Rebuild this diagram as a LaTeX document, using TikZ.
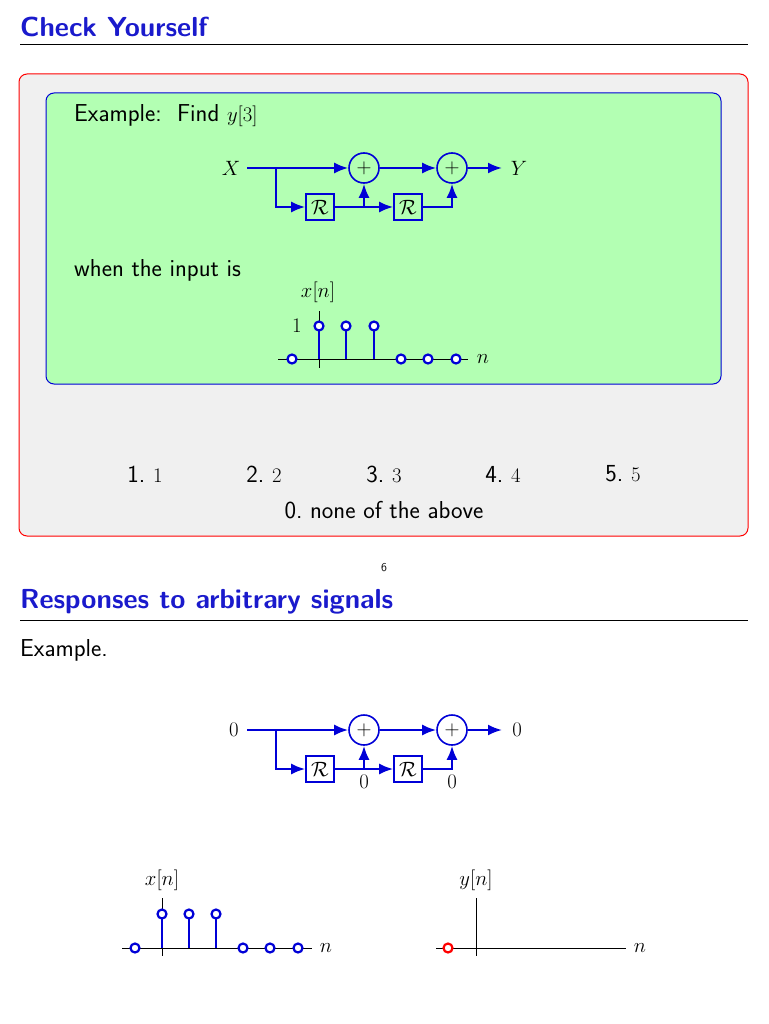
\documentclass[tikz,border=0pt]{standalone}
\usetikzlibrary{arrows.meta}
\definecolor{sigblue}{RGB}{0,0,215}
\definecolor{titleblue}{RGB}{26,26,204}
\definecolor{boxgreen}{RGB}{179,255,179}
\definecolor{boxgray}{RGB}{240,240,240}
\begin{document}
\begin{tikzpicture}[x=1pt,y=-1pt,
  wire/.style={sigblue,line width=2.2pt},
  arr/.style={wire,-{Latex[length=14pt,width=11pt]}},
  adder/.style={circle,draw=sigblue,line width=1.6pt,minimum size=30pt,inner sep=0pt,font=\fontsize{22}{22}\selectfont},
  delay/.style={draw=sigblue,line width=1.6pt,minimum width=28pt,minimum height=26pt,inner sep=0pt,font=\fontsize{22}{22}\selectfont},
  txt/.style={font=\fontsize{24.5}{28}\selectfont\sffamily,inner sep=0pt},
  mtxt/.style={font=\fontsize{22}{24}\selectfont,inner sep=0pt},
  ttl/.style={font=\fontsize{27.5}{32}\selectfont\sffamily\bfseries,text=titleblue,inner sep=0pt,anchor=west},
  ax/.style={black,line width=1pt},
  stem/.style={sigblue,line width=2pt},
  dot/.style={circle,draw=sigblue,fill=white,line width=2.2pt,minimum size=9pt,inner sep=0pt},
  rdot/.style={dot,draw=red}]
\useasboundingbox[fill=white] (0,0) rectangle (768,1024);
% Titles
\node[ttl] (t1) at (20,27) {Check Yourself};
\draw[line width=0.8pt] (20,44) -- (748,44);
\draw[red,fill=boxgray,line width=1pt,rounded corners=8pt] (19,74) rectangle (748,536);
\draw[sigblue,fill=boxgreen,line width=1pt,rounded corners=8pt] (46,93) rectangle (721,384);
\node[txt,anchor=west] (ex) at (74,116) {Example:\ \ Find {\fontsize{22}{24}\selectfont$y[3]$}};
% diagram 1
\node[mtxt] (X) at (231,168) {$X$};
\node[adder] (a1) at (364,168) {$+$};
\node[adder] (a2) at (452,168) {$+$};
\node[mtxt] (Y) at (519,168) {$Y$};
\node[delay] (r1) at (320,207) {$\mathcal{R}$};
\node[delay] (r2) at (408,207) {$\mathcal{R}$};
\coordinate (in1) at (247,168);
\coordinate (out1) at (502,168);
\coordinate (b1) at (276,168);
\coordinate (j1) at (364,207);
\draw[arr] (in1) -- (a1);
\draw[arr] (a1) -- (a2);
\draw[arr] (a2) -- (out1);
\draw[arr] (b1) |- (r1);
\draw[arr] (r1) -- (r2);
\draw[arr] (j1) -- (a1);
\draw[arr] (r2) -| (a2);
\node[txt,anchor=west] (wi) at (74,270) {when the input is};
% stem plot 1
\node[mtxt] (xl1) at (318,292) {$x[n]$};
\node[mtxt] (one) at (297,326) {$1$};
\node[mtxt] (n1) at (483,359) {$n$};
\draw[ax] (278,359) -- (468,359);
\draw[ax] (319,311) -- (319,368);
\foreach \x in {319,346,374}{\draw[stem] (\x,359) -- (\x,326); \node[dot] at (\x,326) {};}
\foreach \x in {292,401,428,456}{\node[dot] at (\x,359) {};}
% answers
\node[txt] (c1) at (145,474) {1.\ {\fontsize{22}{24}\selectfont$1$}};
\node[txt] (c2) at (264,474) {2.\ {\fontsize{22}{24}\selectfont$2$}};
\node[txt] (c3) at (384,474) {3.\ {\fontsize{22}{24}\selectfont$3$}};
\node[txt] (c4) at (503,474) {4.\ {\fontsize{22}{24}\selectfont$4$}};
\node[txt] (c5) at (623,474) {5.\ {\fontsize{22}{24}\selectfont$5$}};
\node[txt] (c0) at (384,510) {0.\ none of the above};
\node[font=\fontsize{12}{14}\selectfont\sffamily] (pg) at (384,568) {6};
% second slide
\node[ttl] (t2) at (20,602) {Responses to arbitrary signals};
\draw[line width=0.8pt] (20,620) -- (748,620);
\node[txt,anchor=west] (ex2) at (20,650) {Example.};
\node[mtxt] (X2) at (234,730) {$0$};
\node[adder] (a3) at (364,730) {$+$};
\node[adder] (a4) at (452,730) {$+$};
\node[mtxt] (Y2) at (517,730) {$0$};
\node[delay] (r3) at (320,769) {$\mathcal{R}$};
\node[delay] (r4) at (408,769) {$\mathcal{R}$};
\coordinate (in2) at (247,730);
\coordinate (out2) at (502,730);
\coordinate (b2) at (276,730);
\coordinate (j2) at (364,769);
\draw[arr] (in2) -- (a3);
\draw[arr] (a3) -- (a4);
\draw[arr] (a4) -- (out2);
\draw[arr] (b2) |- (r3);
\draw[arr] (r3) -- (r4);
\draw[arr] (j2) -- (a3);
\draw[arr] (r4) -| (a4);
\node[mtxt] (z1) at (364,782) {$0$};
\node[mtxt] (z2) at (452,782) {$0$};
% bottom plots
\node[mtxt] (xl2) at (162,880) {$x[n]$};
\node[mtxt] (n2) at (326,948) {$n$};
\draw[ax] (122,948) -- (312,948);
\draw[ax] (162,898) -- (162,956);
\foreach \x in {162,189,216}{\draw[stem] (\x,948) -- (\x,914); \node[dot] at (\x,914) {};}
\foreach \x in {135,243,270,298}{\node[dot] at (\x,948) {};}
\node[mtxt] (yl2) at (476,880) {$y[n]$};
\node[mtxt] (n3) at (640,948) {$n$};
\draw[ax] (436,948) -- (626,948);
\draw[ax] (476,898) -- (476,956);
\node[rdot] (yd) at (448,948) {};
\end{tikzpicture}
\end{document}
